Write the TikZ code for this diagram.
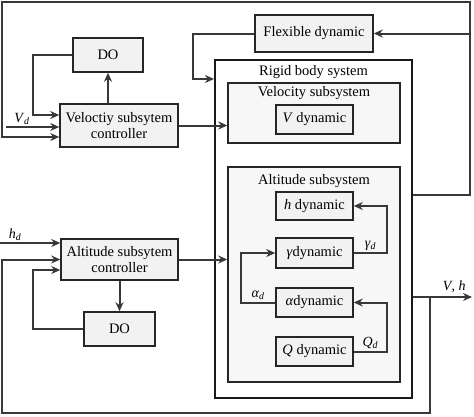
\documentclass[tikz,border=0pt]{standalone}
\usepackage{fontspec}
\setmainfont{Liberation Serif}
\usetikzlibrary{arrows.meta, shadows}

\newcommand{\sig}[2]{\textit{#1}\textsubscript{\textit{#2}}}

\begin{document}
\begin{tikzpicture}[
    x=1pt, y=-1pt,
    block/.style={
        draw=black!85,
        line width=1.5pt,
        fill=gray!10,
        drop shadow={opacity=0.25, shadow xshift=1.2pt, shadow yshift=-1.2pt},
        inner sep=0pt,
        align=center,
        font=\fontsize{14.5}{16}\selectfont,
    },
    group/.style={
        draw=black!85,
        line width=1.5pt,
        fill=gray!6,
        drop shadow={opacity=0.2, shadow xshift=1.2pt, shadow yshift=-1.2pt},
        inner sep=0pt,
    },
    title/.style={
        font=\fontsize{14.5}{16}\selectfont,
        inner sep=0pt,
    },
    signal/.style={
        font=\fontsize{14}{15}\selectfont,
        inner sep=1.5pt,
    },
    flow/.style={
        line width=2pt,
        draw=black!78,
        -{Stealth[length=9pt, width=8pt]},
    }
]
    \useasboundingbox (0,0) rectangle (474,416);

    % Rigid body system and its parts
    \node[draw=black!90, line width=2pt, fill=white, minimum width=197pt, minimum height=338pt] (rigid) at (313.5,229) {};
    \node[title] (rigidtitle) at (313.5,72) {Rigid body system};
    \node[group, minimum width=172pt, minimum height=60pt] (velsub) at (314,113) {};
    \node[title] (veltitle) at (314,93) {Velocity subsystem};
    \node[block, minimum width=77pt, minimum height=29pt] (vdyn) at (314.5,119.5) {\textit{V} dynamic};
    \node[group, minimum width=172pt, minimum height=215pt] (altsub) at (314,274.5) {};
    \node[title] (alttitle) at (314,181) {Altitude subsystem};
    \node[block, minimum width=77pt, minimum height=28pt] (hdyn) at (314.5,206) {\textit{h} dynamic};
    \node[block, minimum width=77pt, minimum height=30pt] (gdyn) at (314.5,253) {\textit{γ}dynamic};
    \node[block, minimum width=77pt, minimum height=29pt] (adyn) at (314.5,302.5) {\textit{α}dynamic};
    \node[block, minimum width=77pt, minimum height=29pt] (qdyn) at (314.5,351.5) {\textit{Q} dynamic};

    % Controllers and observers
    \node[block, minimum width=118pt, minimum height=37pt] (flex) at (314,33.5) {Flexible dynamic};
    \node[block, minimum width=118pt, minimum height=43pt] (velctrl) at (119,125.5) {Veloctiy subsytem\\controller};
    \node[block, minimum width=70pt, minimum height=34pt] (doV) at (108,55) {DO};
    \node[block, minimum width=117pt, minimum height=41pt] (altctrl) at (119.5,259.5) {Altitude subsytem\\controller};
    \node[block, minimum width=71pt, minimum height=34pt] (doA) at (119.5,329) {DO};

    % Corner points
    \coordinate (out) at (472,297);
    \coordinate (split) at (430,297);

    % Velocity loop
    \draw[flow] (velctrl.north -| doV.south) -- (doV.south);
    \draw[flow] (doV.west) -- (33,55) -- (33,115) -- (velctrl.west |- 0,115);
    \draw[flow] (6,127) -- node[signal, above, pos=0.3] {\sig{V}{d}} (velctrl.west |- 0,127);
    \draw[flow] (rigid.east |- 0,195) -- (470,195) -- (470,2) -- (2,2) -- (2,137) -- (velctrl.west |- 0,137);
    \draw[flow] (velctrl.east) -- (velctrl.east -| velsub.west);

    % Flexible dynamic
    \draw[flow] (470,33.5) -- (flex.east);
    \draw[flow] (flex.west) -- (193,33.5) -- (193,79) -- (rigid.west |- 0,79);

    % Altitude loop
    \draw[flow] (altctrl.south) -- (doA.north);
    \draw[flow] (doA.west) -- (33,329) -- (33,270) -- (altctrl.west |- 0,270);
    \draw[flow] (0,243) -- node[signal, above, pos=0.25] {\sig{h}{d}} (altctrl.west |- 0,243);
    \draw[flow] (altctrl.east) -- (altctrl.east -| altsub.west);
    \draw[flow] (rigid.east |- out) -- (out) node[signal, above left, pos=1, xshift=-4pt, yshift=2pt] {\textit{V}, \textit{h}};
    \draw[flow] (split) -- (430,413) -- (2,413) -- (2,259.5) -- (altctrl.west);

    % Inner altitude dynamics
    \draw[flow] (gdyn.east) -- node[signal, above] {\sig{γ}{d}} (387,253) -- (387,206) -- (hdyn.east);
    \draw[flow] (adyn.west) -- node[signal, above] {\sig{α}{d}} (241,302.5) -- (241,253) -- (gdyn.west);
    \draw[flow] (qdyn.east) -- node[signal, above] {\sig{Q}{d}} (387,351.5) -- (387,302.5) -- (adyn.east);
\end{tikzpicture}
\end{document}
